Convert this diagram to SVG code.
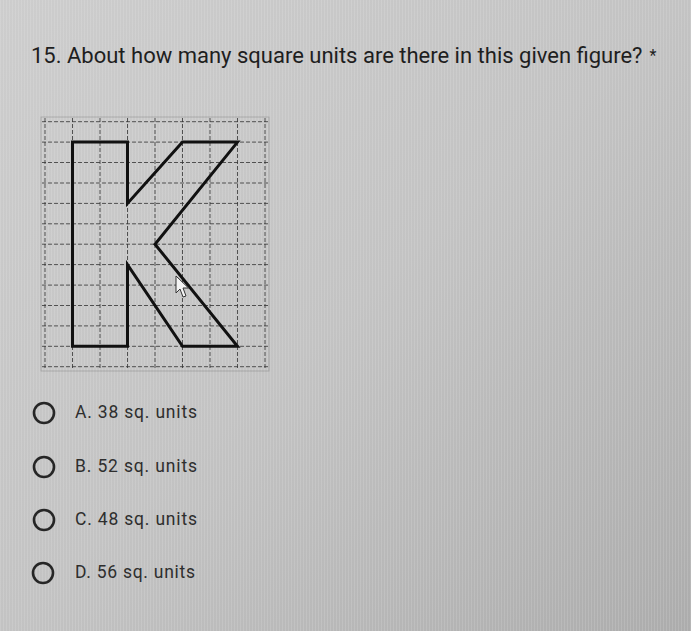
<svg xmlns="http://www.w3.org/2000/svg" width="691" height="631" viewBox="0 0 691 631">
  <defs>
    <linearGradient id="bg" x1="0" y1="0" x2="1" y2="1">
      <stop offset="0" stop-color="#cdcdcd"/>
      <stop offset="0.5" stop-color="#c3c3c3"/>
      <stop offset="1" stop-color="#acacac"/>
    </linearGradient>
    <pattern id="stripes" width="3" height="4" patternUnits="userSpaceOnUse">
      <rect x="0" y="0" width="1" height="4" fill="#ffffff" opacity="0.12"/>
    </pattern>
  </defs>
  <style>
    .title { font-family: Roboto, "Liberation Sans", sans-serif; font-size: 22px; fill: #1e1e1e; }
    .star { font-size: 16px; }
    .opt { font-family: Roboto, "Liberation Sans", sans-serif; font-size: 17.5px; fill: #2e2e2e; }
    .radio { fill: none; stroke: #262626; stroke-width: 2.6; }
    .grid line { stroke: #333; stroke-width: 1; stroke-dasharray: 4 2; opacity: 0.8; }
    .k { fill: none; stroke: #111; stroke-width: 3; stroke-linejoin: miter; }
  </style>
  <rect width="691" height="631" fill="url(#bg)"/>
  <rect width="691" height="631" fill="url(#stripes)"/>

  <g id="question">
    <text class="title" x="31" y="63">15. About how many square units are there in this given figure?<tspan class="star" dx="7" dy="-2">*</tspan></text>
  </g>

  <g id="figure">
    <rect x="41" y="117" width="228" height="254" fill="none" stroke="#6a6a6a" stroke-width="0.8" opacity="0.4"/>
    <g class="grid">
      <line x1="45" y1="118" x2="45" y2="370"/>
      <line x1="72.5" y1="118" x2="72.5" y2="370"/>
      <line x1="100" y1="118" x2="100" y2="370"/>
      <line x1="127.5" y1="118" x2="127.5" y2="370"/>
      <line x1="155" y1="118" x2="155" y2="370"/>
      <line x1="182.5" y1="118" x2="182.5" y2="370"/>
      <line x1="210" y1="118" x2="210" y2="370"/>
      <line x1="237.5" y1="118" x2="237.5" y2="370"/>
      <line x1="265" y1="118" x2="265" y2="370"/>
      <line x1="42" y1="121.7" x2="268" y2="121.7"/>
      <line x1="42" y1="142.1" x2="268" y2="142.1"/>
      <line x1="42" y1="162.5" x2="268" y2="162.5"/>
      <line x1="42" y1="183" x2="268" y2="183"/>
      <line x1="42" y1="203.4" x2="268" y2="203.4"/>
      <line x1="42" y1="223.8" x2="268" y2="223.8"/>
      <line x1="42" y1="244.2" x2="268" y2="244.2"/>
      <line x1="42" y1="264.6" x2="268" y2="264.6"/>
      <line x1="42" y1="285.1" x2="268" y2="285.1"/>
      <line x1="42" y1="305.5" x2="268" y2="305.5"/>
      <line x1="42" y1="325.9" x2="268" y2="325.9"/>
      <line x1="42" y1="346.3" x2="268" y2="346.3"/>
      <line x1="42" y1="366.7" x2="268" y2="366.7"/>
    </g>
    <polygon id="letterK" class="k" points="72.5,142.1 127.5,142.1 127.5,203.4 182.5,142.1 237.5,142.1 155,244.2 237.5,346.3 182.5,346.3 127.5,264.6 127.5,346.3 72.5,346.3"/>
    <path id="cursor" d="M176,276 L176,293 L180,289 L183,297 L186,296 L183,288 L188.5,288 Z" fill="#f4f4f4" stroke="#333" stroke-width="1" stroke-linejoin="round"/>
  </g>

  <g id="optionA">
    <circle class="radio" cx="44" cy="413" r="10"/>
    <text class="opt" x="75" y="417.5" textLength="122" lengthAdjust="spacing">A. 38 sq. units</text>
  </g>
  <g id="optionB">
    <circle class="radio" cx="44" cy="467" r="10"/>
    <text class="opt" x="75" y="471.5" textLength="122" lengthAdjust="spacing">B. 52 sq. units</text>
  </g>
  <g id="optionC">
    <circle class="radio" cx="44" cy="520" r="10"/>
    <text class="opt" x="75" y="524.5" textLength="122" lengthAdjust="spacing">C. 48 sq. units</text>
  </g>
  <g id="optionD">
    <circle class="radio" cx="43" cy="573" r="10"/>
    <text class="opt" x="75" y="577.5" textLength="120" lengthAdjust="spacing">D. 56 sq. units</text>
  </g>
</svg>
